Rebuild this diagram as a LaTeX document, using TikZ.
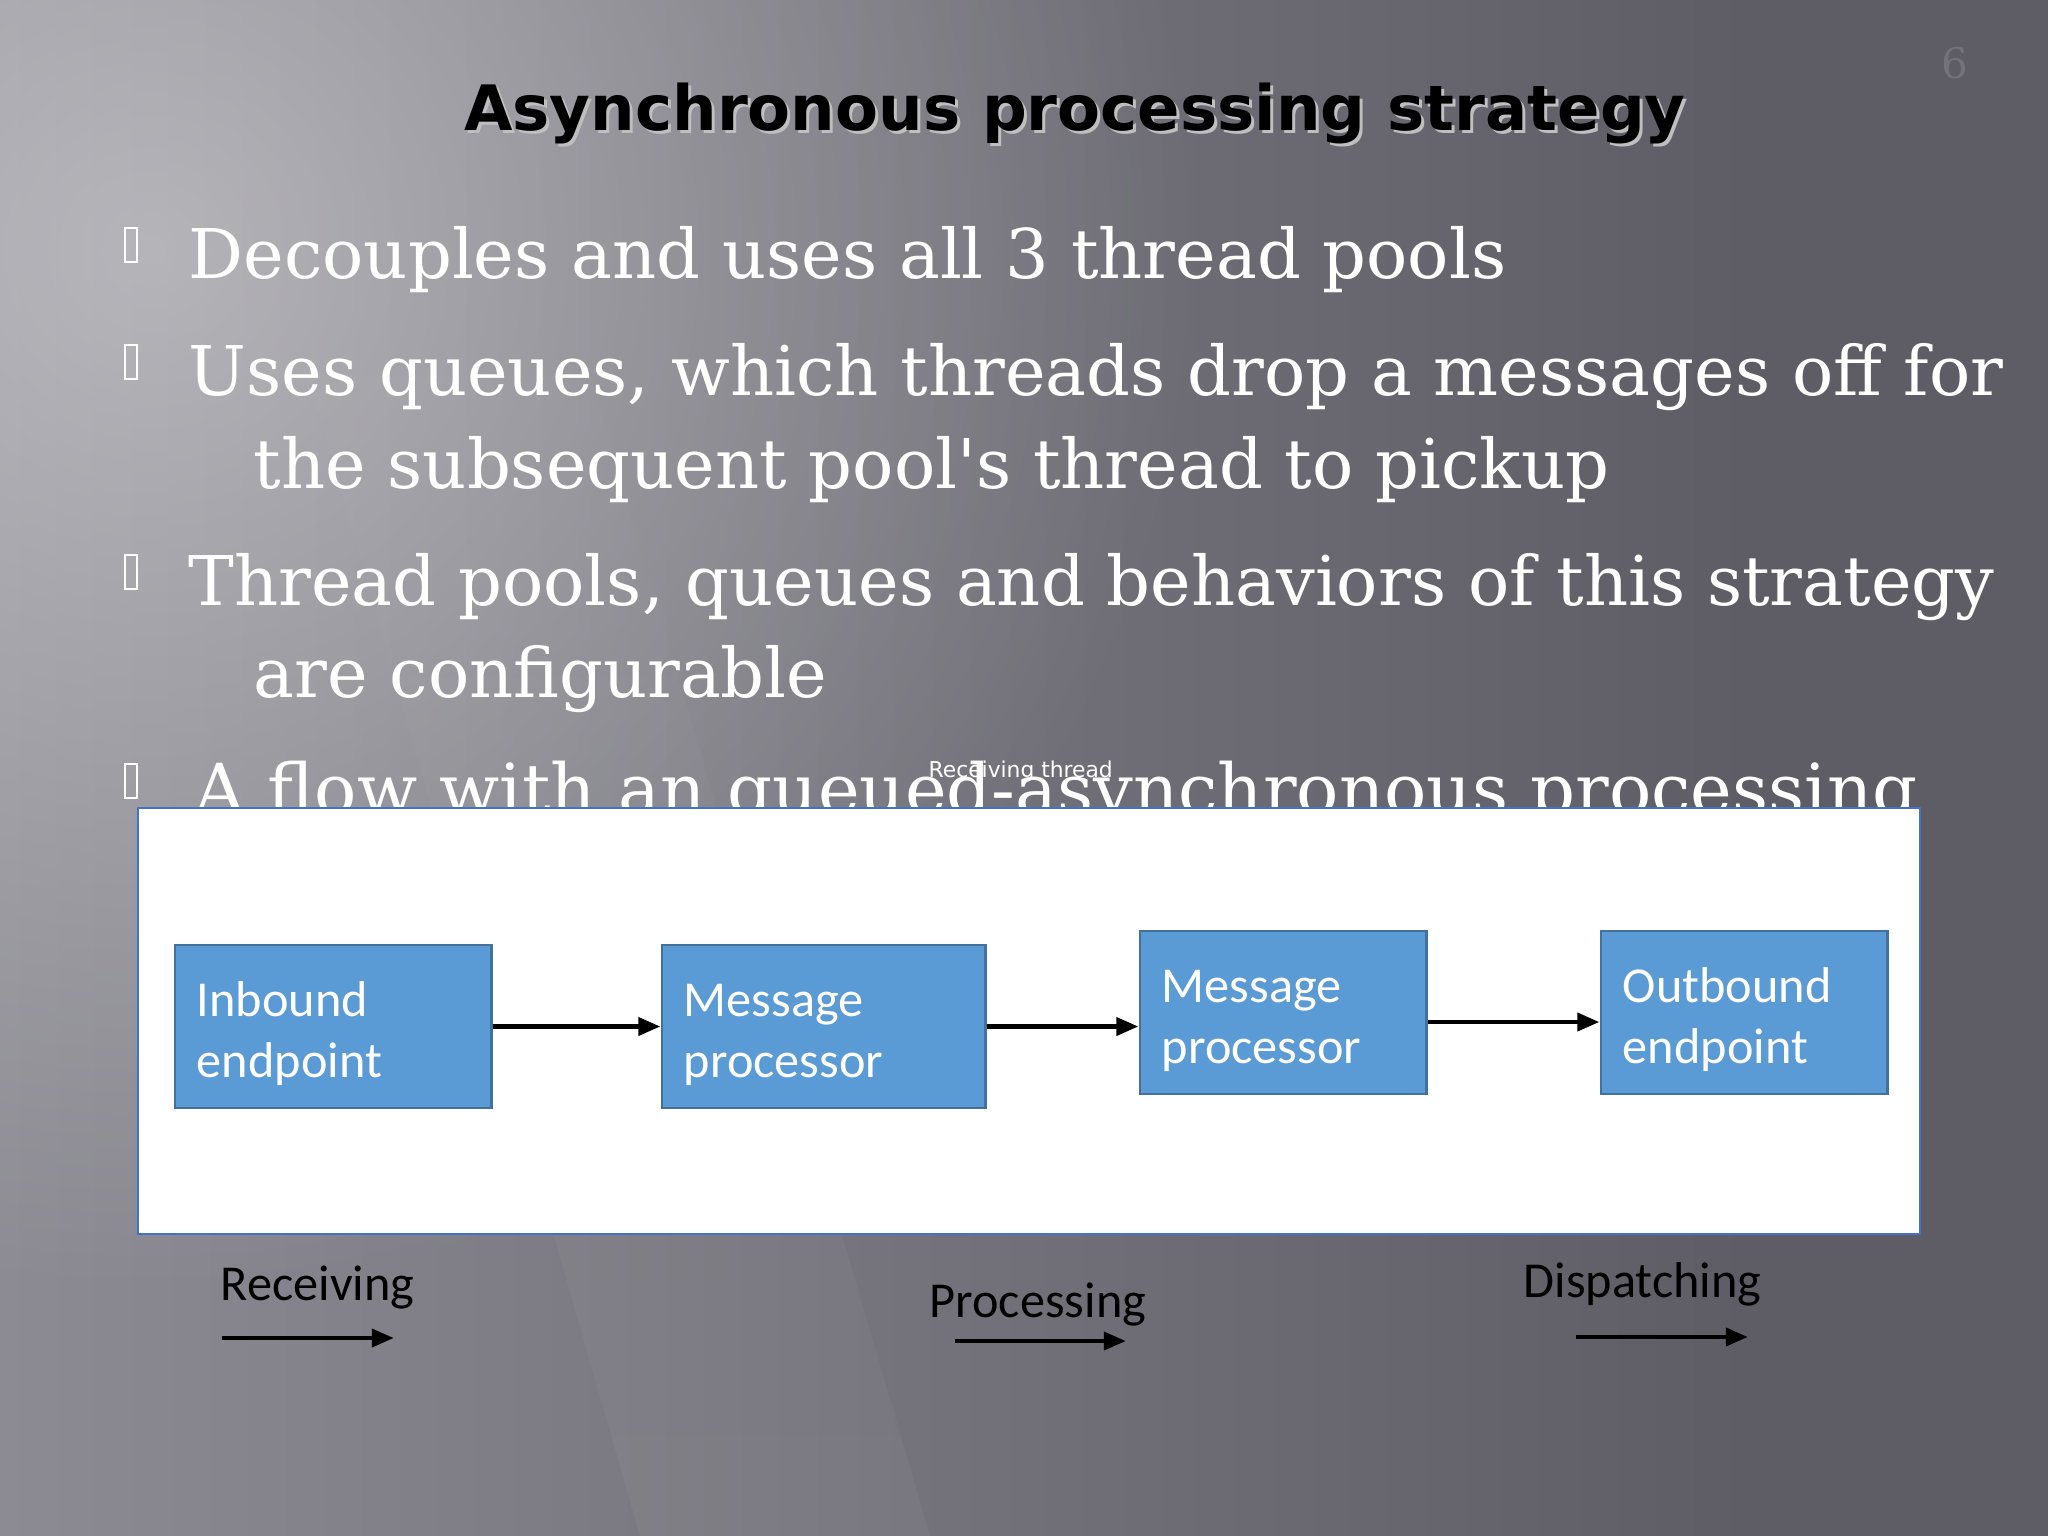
\documentclass[tikz,border=0pt]{standalone}
\usepackage{fontspec}
\usepackage{tikz}
\usetikzlibrary{arrows.meta, fadings}
\newfontfamily\slidesans{DejaVu Sans}
\newfontfamily\slideserif{DejaVu Serif}
\newfontfamily\boxfont{Carlito}
\definecolor{bgdark}{HTML}{5E5C65}
\definecolor{bglight}{HTML}{8C8B93}
\definecolor{boxblue}{HTML}{5B9BD5}
\definecolor{boxedge}{HTML}{41719C}
\definecolor{panelblue}{HTML}{4472C4}
\definecolor{pagenum}{HTML}{74737B}
\tikzfading[name=softglow, inner color=transparent!62, outer color=transparent!100]
\tikzfading[name=streakfade, top color=transparent!100, bottom color=transparent!96]
\newcommand{\boxstrut}{\rule{0pt}{0.49cm}}
\tikzset{
    bullet/.style={anchor=base west, inner sep=0pt, text=white, font=\slideserif\fontsize{19.5}{23}\selectfont},
    bulletbox/.style={draw=white, line width=0.5pt},
    stage/.style={draw=boxedge, line width=0.8pt, fill=boxblue, text=white, minimum height=1.63cm,
        align=left, inner sep=0pt, font=\boxfont\fontsize{14.3}{17.6}\selectfont},
    flow/.style={line width=1.4pt, -{Triangle[length=6.3pt, width=5pt]}},
    phase/.style={anchor=base west, inner sep=0pt, font=\boxfont\fontsize{14.3}{17.6}\selectfont}
}

\begin{document}
\begin{tikzpicture}[x=0.01cm, y=-0.01cm]
    \useasboundingbox (0,0) rectangle (2048,1536);
    % slide background
    \fill[bgdark] (0,0) rectangle (2048,1536);
    \shade[left color=bglight, right color=bgdark] (0,0) rectangle (1750,1536);
    \fill[white, path fading=softglow] (150,250) circle (1050);
    \fill[white, path fading=streakfade] (200,0) -- (480,0) -- (930,1536) -- (640,1536) -- cycle;

    \node[anchor=base, inner sep=0pt, text=pagenum, font=\slideserif\fontsize{12}{14}\selectfont] (pgnum) at (1955,78) {6};
    \node[anchor=base, inner sep=0pt, text=black!25, font=\slidesans\bfseries\fontsize{17.8}{21}\selectfont] (titleshadow) at (1078,133) {Asynchronous processing strategy};
    \node[anchor=base, inner sep=0pt, text=black, font=\slidesans\bfseries\fontsize{17.8}{21}\selectfont] (title) at (1075,130) {Asynchronous processing strategy};

    % bullets
    \foreach \b in {278,395,605,814}
        \draw[bulletbox] (125,\b-50) rectangle ++(12,34);
    \node[bullet] (b1) at (188,278) {Decouples and uses all 3 thread pools};
    \node[bullet] (b2) at (188,395) {Uses queues, which threads drop a messages off for};
    \node[bullet] (b2c) at (253,488) {the subsequent pool\textquotesingle s thread to pickup};
    \node[bullet] (b3) at (188,605) {Thread pools, queues and behaviors of this strategy};
    \node[bullet] (b3c) at (253,697) {are configurable};
    \node[bullet, font=\slideserif\fontsize{20}{24}\selectfont] (b4) at (194,814) {A flow with an queued-asynchronous processing};

    % flow panel
    \draw[panelblue, line width=0.8pt, fill=white] (138,808) rectangle (1920,1234);
    \node[anchor=base west, inner sep=0pt, text=white, font=\slidesans\fontsize{6.2}{7}\selectfont] (thread) at (928,777) {Receiving thread};

    \node[stage, minimum width=3.16cm, text width=2.72cm] (inb) at (333,1026.5) {\boxstrut Inbound\\endpoint};
    \node[stage, minimum width=3.23cm, text width=2.79cm] (msga) at (823.5,1026.5) {\boxstrut Message\\processor};
    \node[stage, minimum width=2.86cm, text width=2.42cm] (msgb) at (1283,1012.5) {\boxstrut Message\\processor};
    \node[stage, minimum width=2.86cm, text width=2.42cm] (outb) at (1744,1012.5) {\boxstrut Outbound\\endpoint};

    \draw[flow] (inb) -- (msga);
    \draw[flow] (msga.east) -- (msga.east -| msgb.west);
    \draw[flow] ([yshift=-0.095cm]msgb.east) -- ([yshift=-0.095cm]outb.west);

    % pool labels
    \node[phase] (recv) at (220,1300) {Receiving};
    \node[phase] (proc) at (929,1317) {Processing};
    \node[phase] (disp) at (1523,1297) {Dispatching};
    \coordinate (recvA) at (222,1338);
    \coordinate (recvB) at (394,1338);
    \coordinate (procA) at (955,1341);
    \coordinate (procB) at (1126,1341);
    \coordinate (dispA) at (1576,1337);
    \coordinate (dispB) at (1748,1337);
    \draw[flow] (recvA) -- (recvB);
    \draw[flow] (procA) -- (procB);
    \draw[flow] (dispA) -- (dispB);
\end{tikzpicture}
\end{document}
